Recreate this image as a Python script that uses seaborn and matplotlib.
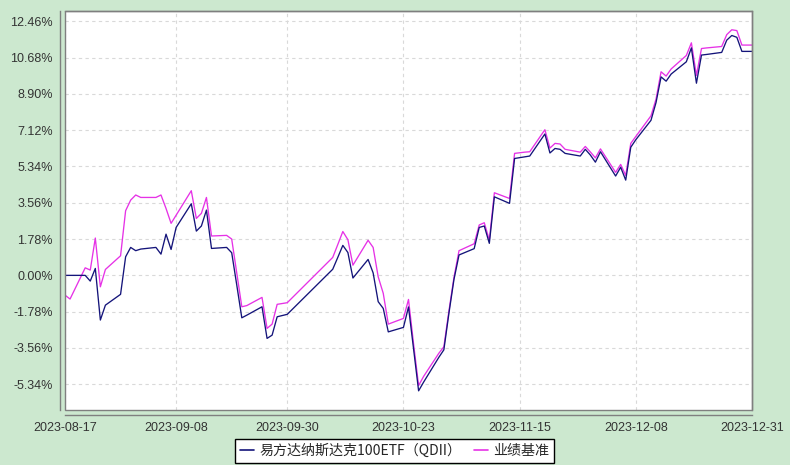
import matplotlib
matplotlib.use('Agg')
import matplotlib.pyplot as plt
import matplotlib.dates as mdates
from matplotlib.lines import Line2D
from matplotlib.patches import Rectangle
from matplotlib.font_manager import FontProperties
import seaborn as sns
import pandas as pd

dates = ['2023-08-17', '2023-08-18', '2023-08-21', '2023-08-22', '2023-08-23', '2023-08-24', '2023-08-25',
         '2023-08-28', '2023-08-29', '2023-08-30', '2023-08-31', '2023-09-01',
         '2023-09-04', '2023-09-05', '2023-09-06', '2023-09-07', '2023-09-08',
         '2023-09-11', '2023-09-12', '2023-09-13', '2023-09-14', '2023-09-15',
         '2023-09-18', '2023-09-19', '2023-09-20', '2023-09-21', '2023-09-22',
         '2023-09-25', '2023-09-26', '2023-09-27', '2023-09-28', '2023-09-30',
         '2023-10-09', '2023-10-10', '2023-10-11', '2023-10-12', '2023-10-13',
         '2023-10-16', '2023-10-17', '2023-10-18', '2023-10-19', '2023-10-20',
         '2023-10-23', '2023-10-24', '2023-10-25', '2023-10-26', '2023-10-27',
         '2023-10-30', '2023-10-31', '2023-11-01', '2023-11-02', '2023-11-03',
         '2023-11-06', '2023-11-07', '2023-11-08', '2023-11-09', '2023-11-10',
         '2023-11-13', '2023-11-14', '2023-11-15', '2023-11-16', '2023-11-17',
         '2023-11-20', '2023-11-21', '2023-11-22', '2023-11-23', '2023-11-24',
         '2023-11-27', '2023-11-28', '2023-11-29', '2023-11-30', '2023-12-01',
         '2023-12-04', '2023-12-05', '2023-12-06', '2023-12-07', '2023-12-08',
         '2023-12-11', '2023-12-12', '2023-12-13', '2023-12-14', '2023-12-15',
         '2023-12-18', '2023-12-19', '2023-12-20', '2023-12-21', '2023-12-22',
         '2023-12-25', '2023-12-26', '2023-12-27', '2023-12-28', '2023-12-29',
         '2023-12-31']

fund = [0.00, 0.00, 0.00, -0.28, 0.34, -2.19, -1.46,
        -0.93, 0.91, 1.37, 1.21, 1.29,
        1.37, 1.04, 2.02, 1.27, 2.35,
        3.51, 2.17, 2.42, 3.20, 1.32,
        1.37, 1.11, -0.47, -2.08, -1.95,
        -1.54, -3.09, -2.93, -2.03, -1.91,
        0.30, 0.88, 1.47, 1.12, -0.13,
        0.78, 0.12, -1.29, -1.62, -2.77,
        -2.55, -1.55, -3.60, -5.66, -5.23,
        -4.02, -3.65, -1.86, -0.20, 1.00,
        1.31, 2.35, 2.42, 1.57, 3.85,
        3.53, 5.73, 5.77, 5.81, 5.85,
        6.93, 6.00, 6.22, 6.18, 5.98,
        5.85, 6.18, 5.90, 5.55, 6.06,
        4.87, 5.30, 4.67, 6.28, 6.65,
        7.60, 8.47, 9.73, 9.52, 9.87,
        10.47, 11.15, 9.42, 10.80, 10.83,
        10.93, 11.53, 11.76, 11.67, 10.98,
        10.98]

bench = [-0.97, -1.16, 0.37, 0.26, 1.83, -0.56, 0.29,
         0.96, 3.17, 3.69, 3.94, 3.82,
         3.82, 3.94, 3.28, 2.55, 2.95,
         4.15, 2.79, 3.04, 3.82, 1.93,
         1.96, 1.78, 0.12, -1.54, -1.48,
         -1.08, -2.60, -2.39, -1.42, -1.34,
         0.88, 1.51, 2.15, 1.75, 0.50,
         1.72, 1.37, -0.07, -0.88, -2.39,
         -2.11, -1.18, -3.35, -5.40, -4.95,
         -3.82, -3.50, -1.75, -0.10, 1.21,
         1.55, 2.47, 2.58, 1.73, 4.05,
         3.77, 5.98, 6.01, 6.04, 6.06,
         7.14, 6.24, 6.47, 6.44, 6.18,
         6.04, 6.32, 6.05, 5.76, 6.20,
         5.05, 5.44, 4.90, 6.47, 6.81,
         7.82, 8.64, 9.98, 9.77, 10.12,
         10.78, 11.40, 9.80, 11.12, 11.15,
         11.22, 11.80, 12.04, 12.00, 11.29,
         11.29]

series_names = ['易方达纳斯达克100ETF（QDII）', '业绩基准']
xtick_labels = ['2023-08-17', '2023-09-08', '2023-09-30', '2023-10-23', '2023-11-15', '2023-12-08', '2023-12-31']
ytick_values = [12.46, 10.68, 8.90, 7.12, 5.34, 3.56, 1.78, 0.00, -1.78, -3.56, -5.34]

BG = '#cce8cf'
BLUE = '#14147a'
PINK = '#e632e6'

sns.set_theme(style='white')
plt.rcParams['font.family'] = ['Liberation Sans', 'DejaVu Sans']

fig = plt.figure(figsize=(7.9, 4.65), dpi=100, facecolor=BG)
ax = fig.add_axes([65 / 790, 1 - 410 / 465, 687 / 790, 399 / 465])
ax.set_facecolor('white')

df = pd.DataFrame({'date': pd.to_datetime(dates), series_names[0]: fund, series_names[1]: bench})
long = df.melt('date', var_name='series', value_name='value')
sns.lineplot(data=long, x='date', y='value', hue='series',
             hue_order=[series_names[1], series_names[0]],
             palette={series_names[0]: BLUE, series_names[1]: PINK},
             linewidth=0.95, legend=False, ax=ax, estimator=None)

ax.set_xlim(pd.Timestamp('2023-08-17'), pd.Timestamp('2023-12-31'))
ax.set_ylim(-6.60, 12.96)
ax.set_xticks(pd.to_datetime(xtick_labels))
ax.set_xticklabels(xtick_labels)
ax.set_yticks(ytick_values)
ax.set_yticklabels([f'{v:.2f}%' for v in ytick_values])
ax.set_xlabel('')
ax.set_ylabel('')

ax.grid(True, linestyle=(0, (3, 3)), color='#d9d9d9', linewidth=0.8)
ax.set_axisbelow(True)

for s in ['top', 'right']:
    ax.spines[s].set_color('#7f7f7f')
    ax.spines[s].set_linewidth(1.0)
for s in ['left', 'bottom']:
    ax.spines[s].set_position(('outward', 3.6))
    ax.spines[s].set_color('#7f7f7f')
    ax.spines[s].set_linewidth(1.0)
ax.add_patch(Rectangle((0, 0), 1, 1, transform=ax.transAxes, fill=False,
                       edgecolor='#7f7f7f', linewidth=1.0, clip_on=False, zorder=5))

ax.tick_params(axis='both', direction='out', length=3, width=0.8, color='#7f7f7f',
               labelsize=9, labelcolor='#333333')
ax.tick_params(axis='y', pad=2)
ax.tick_params(axis='x', pad=2)

handles = [Line2D([], [], color=BLUE, linewidth=1.2), Line2D([], [], color=PINK, linewidth=1.2)]
leg = fig.legend(handles, series_names, loc='center', bbox_to_anchor=(394.5 / 790, 1 - 451 / 465),
                 ncol=2, frameon=True, fancybox=False, edgecolor='black', facecolor='white',
                 framealpha=1, handlelength=1.0, handletextpad=0.35, columnspacing=0.9,
                 borderpad=0.35, prop=FontProperties(family=['Noto Sans CJK SC', 'DejaVu Sans'], size=10.1))
leg.get_frame().set_linewidth(1.0)

fig.savefig('out.png', dpi=100, facecolor=BG)
